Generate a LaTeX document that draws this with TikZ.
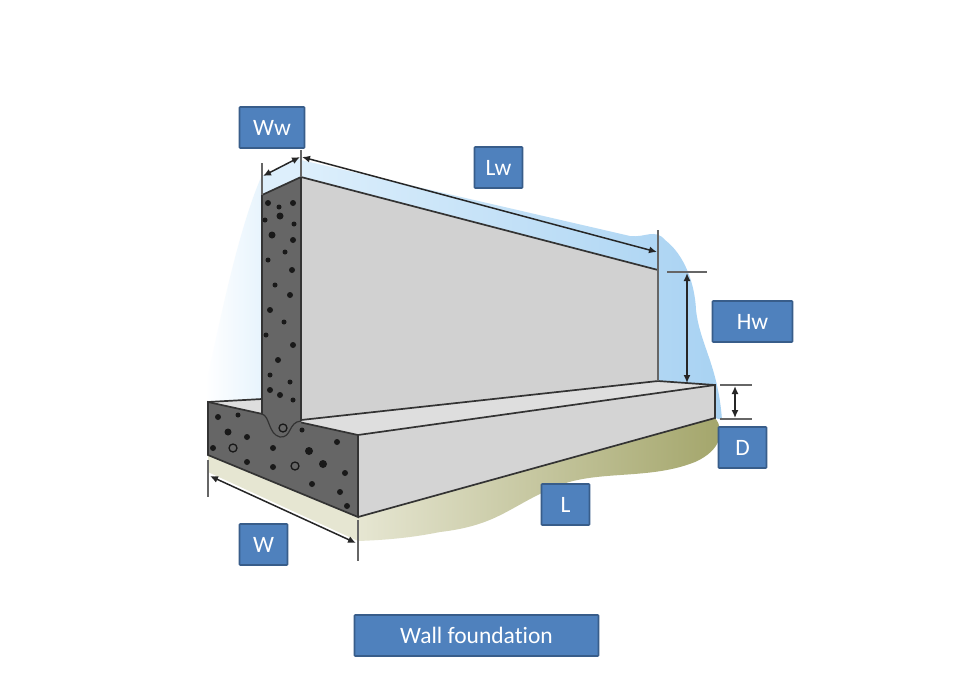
\documentclass[tikz,border=0pt]{standalone}
\usepackage{fontspec}
\setmainfont[Ligatures=NoCommon]{Carlito}
\usetikzlibrary{arrows.meta}
\definecolor{boxfill}{HTML}{4F81BD}
\definecolor{boxline}{HTML}{385D8A}
\definecolor{skyblue}{HTML}{A8D2F2}
\definecolor{skypale}{HTML}{DDEFFC}
\definecolor{soil}{HTML}{A3A56A}
\definecolor{soilpale}{HTML}{E6E6D2}
\definecolor{concrete}{HTML}{666666}
\begin{document}
\begin{tikzpicture}[x=1pt, y=-1pt,
    main/.style={draw=boxline, line width=1.6pt, fill=boxfill, text=white, rounded corners=0.8pt, minimum height=41pt, inner sep=0pt, font=\fontsize{23.5}{26}\selectfont},
    edge/.style={draw=black!80, line width=1.7pt},
    ext/.style={draw=black!60, line width=1.6pt},
    dim/.style={draw=black!85, line width=1.5pt, {Latex[length=8pt,width=7pt]}-{Latex[length=8pt,width=7pt]}}]
    \useasboundingbox (0,0) rectangle (960,694);
    \fill[white] (0,0) rectangle (960,694);
    % sky behind the wall
    \shade[left color=white, right color=skypale!70] (205,390) .. controls (220,320) and (238,230) .. (262,175) -- (262,400) -- (208,402) -- cycle;
    \shade[left color=skypale, right color=skyblue] (301,160) -- (630,236) .. controls (645,238) and (655,228) .. (665,240) .. controls (685,255) and (695,285) .. (696,310) .. controls (700,345) and (718,365) .. (722,420) -- (658,400) -- (658,270) -- (301,177) -- cycle;
    \fill[skypale] (262,176) -- (301,158) -- (301,177) -- (262,195) -- cycle;
    % ground
    \fill[soilpale] (208,455) -- (358,517) -- (358,541) -- (208,472) -- cycle;
    \shade[left color=soilpale, right color=soil] (358,517) -- (715,418) .. controls (725,430) and (722,450) .. (695,462) .. controls (650,480) and (600,470) .. (560,485) .. controls (510,505) and (500,525) .. (440,532) .. controls (410,538) and (385,540) .. (358,541) -- cycle;
    % wall and footing faces
    \fill[black!18] (301,177) -- (658,270) -- (658,381) -- (301,420) -- cycle;
    \fill[black!13] (262,399) -- (208,402) -- (358,435) -- (715,385) -- (658,381) -- (301,420) -- cycle;
    \fill[black!17] (358,435) -- (715,385) -- (715,418) -- (358,517) -- cycle;
    \draw[edge, fill=concrete] (208,402) -- (358,435) -- (358,517) -- (208,455) -- cycle;
    \fill[concrete] (262,195) -- (301,177) -- (301,430) -- (262,425) -- cycle;
    \draw[edge] (262,414) -- (262,195) -- (301,177) -- (301,421);
    \draw[edge, line width=1.2pt] (262,414) .. controls (270,416) and (268,434) .. (280,437) .. controls (292,438) and (288,422) .. (301,421);
    % outlines
    \draw[edge] (301,177) -- (658,270);
    \draw[edge] (301,420) -- (658,381);
    \draw[edge] (358,435) -- (715,385) -- (715,418) -- (358,517);
    \draw[edge] (208,402) -- (262,399);
    \draw[edge] (658,381) -- (715,385);
    % speckles
    \foreach \px/\py/\pr in {268/203/3,279/207/2.5,293/203/3,280/216/3.5,265/220/2.5,294/224/2.5,272/235/3.5,293/240/3,285/252/2.5,268/260/2.5,292/270/3,275/285/2.5,290/295/3,270/310/3,284/322/2.5,266/335/2.5,293/345/3,278/360/3,270/375/2.5,290/382/2.5,280/395/3,293/400/2.5,270/390/3,218/417/3,238/415/2.5,228/432/3.5,247/437/3,213/448/3,273/448/3,247/462/3,273/467/3,309/451/4,323/464/4,337/442/3,345/473/3,312/484/3,340/492/3,347/506/3,302/430/2.5}
        \fill[black!90] (\px,\py) circle (\pr pt);
    \foreach \px/\py in {233/448,295/466,283/428}
        \draw[black!90, line width=1.3pt] (\px,\py) circle (4pt);
    % dimension lines
    \coordinate (ww1) at (262,163); \coordinate (ww2) at (262,195);
    \coordinate (ww3) at (301,150); \coordinate (ww4) at (301,177);
    \coordinate (lw1) at (658,230); \coordinate (lw2) at (658,381);
    \coordinate (hw1) at (667,272); \coordinate (hw2) at (707,272);
    \coordinate (d1) at (720,385); \coordinate (d2) at (752,385);
    \coordinate (d3) at (720,419); \coordinate (d4) at (752,419);
    \coordinate (w1) at (208,460); \coordinate (w2) at (208,497);
    \coordinate (w3) at (358,520); \coordinate (w4) at (358,561);
    \draw[ext] (ww1) -- (ww2);
    \draw[ext] (ww3) -- (ww4);
    \draw[ext] (lw1) -- (lw2);
    \draw[ext] (hw1) -- (hw2);
    \draw[ext] (d1) -- (d2);
    \draw[ext] (d3) -- (d4);
    \draw[ext] (w1) -- (w2);
    \draw[ext] (w3) -- (w4);
    \coordinate (a1) at (263,176); \coordinate (a2) at (300,157);
    \coordinate (a3) at (302,157); \coordinate (a4) at (657,252);
    \coordinate (a5) at (687,273); \coordinate (a6) at (687,383);
    \coordinate (a7) at (735,386); \coordinate (a8) at (735,418);
    \coordinate (a9) at (210,476); \coordinate (a10) at (356,543);
    \draw[dim] (a1) -- (a2);
    \draw[dim] (a3) -- (a4);
    \draw[dim] (a5) -- (a6);
    \draw[dim] (a7) -- (a8);
    \draw[dim] (a9) -- (a10);
    % labels
    \node[main, minimum width=65pt] (ww) at (272,127.5) {Ww};
    \node[main, minimum width=48pt] (lw) at (498.5,167.5) {Lw};
    \node[main, minimum width=80pt] (hw) at (752.5,321.5) {Hw};
    \node[main, minimum width=48pt] (d) at (742.5,447.5) {D};
    \node[main, minimum width=48pt] (l) at (565.5,504.5) {L};
    \node[main, minimum width=48pt] (w) at (263.5,544.5) {W};
    \node[main, minimum width=244pt] (title) at (476.5,635.5) {Wall foundation};
\end{tikzpicture}
\end{document}
